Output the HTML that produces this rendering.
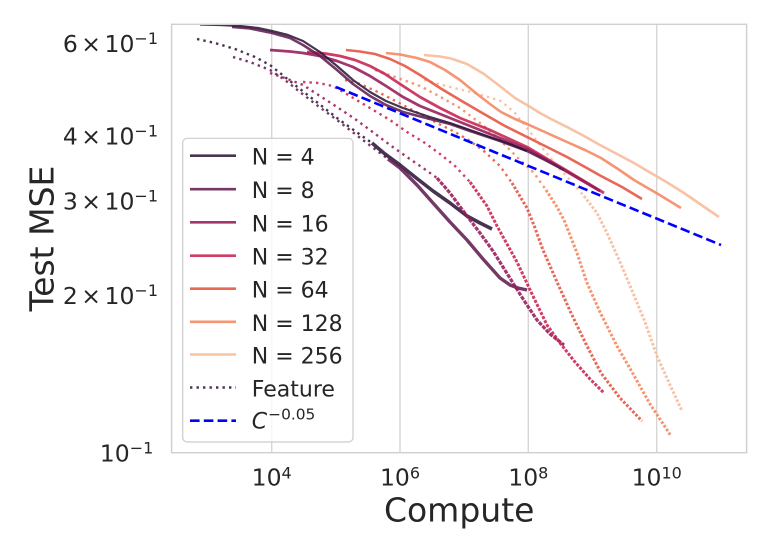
<!DOCTYPE html>
<html><head><meta charset="utf-8"><style>
html,body{margin:0;padding:0;background:#fff;width:768px;height:533px;overflow:hidden}
svg{display:block}
text{font-family:"DejaVu Sans","Liberation Sans",sans-serif;fill:#262626}
</style></head><body>
<svg width="768" height="533" viewBox="0 0 768 533" xmlns="http://www.w3.org/2000/svg">
<rect width="768" height="533" fill="#fff"/>
<!-- grid -->
<g stroke="#d6d6d6" stroke-width="1.4">
<line x1="271.7" y1="24.3" x2="271.7" y2="452.7"/>
<line x1="400" y1="24.3" x2="400" y2="452.7"/>
<line x1="528.3" y1="24.3" x2="528.3" y2="452.7"/>
<line x1="656.7" y1="24.3" x2="656.7" y2="452.7"/>
</g>
<defs><clipPath id="ax"><rect x="171.6" y="24.3" width="575" height="428.4"/></clipPath></defs>
<g clip-path="url(#ax)" fill="none" stroke-linejoin="round" stroke-opacity="0.88">
<!-- Feature dotted parts -->
<g stroke-width="2.4" stroke-dasharray="2.4 4.1">
<polyline stroke="#2f173a" points="197,39 215,43 235,49 255,57 270,65 285,77 300,89 318,103 337,118 355,131 372,143"/>
<polyline stroke="#611e51" points="233,57 250,62 270,70 285,80 300,92 318,106 337,120 355,134 372,147 388,159"/>
<polyline stroke="#961a58" points="270,73 285,78 303,85 320,96 337,107 355,119 370,130 390,145 407,157 423,168 437,178"/>
<polyline stroke="#c8214f" points="303,82 318,83 333,86 350,96 370,108 390,120 407,132 425,143 440,154 455,166 470,182"/>
<polyline stroke="#e6523f" points="345,80 360,84 380,93 403,105 420,114 437,123 455,132 470,141 485,152 500,166 512,183"/>
<polyline stroke="#f48660" points="375,70 395,77 420,86 437,95 460,108 484,126 500,140 517,157 534,173 546,190"/>
<polyline stroke="#f7bb99" points="424,80 450,87 475,93 501,101 515,113 527,128 540,145 557,166 570,180 584,196"/>
</g>
<!-- Feature dense parts -->
<polyline stroke="#2f173a" stroke-width="3.6" points="372,143 385,154 400,165 415,177 433,191 450,203 467,216 480,223 492,229"/>
<polyline stroke="#611e51" stroke-width="3.4" points="388,159 400,168 417,185 433,203 450,222 467,240 483,259 500,278 510,285 518,288 527,290"/>
<polyline stroke="#961a58" stroke-width="3.2" stroke-dasharray="4 1.2" points="437,178 450,193 467,216 480,233 493,251 503,267 513,283 525,302 537,320 550,334 564,345"/>
<polyline stroke="#c8214f" stroke-width="3" stroke-dasharray="3 1.5" points="470,182 487,206 497,226 507,244 517,262 532,294 547,325 560,343 575,362 590,379 604,393"/>
<polyline stroke="#e6523f" stroke-width="3" stroke-dasharray="2.6 1.8" points="512,183 527,208 535,228 543,250 557,282 571,313 586,344 601,373 620,398 642,421"/>
<polyline stroke="#f48660" stroke-width="3" stroke-dasharray="2.6 1.8" points="546,190 557,207 564,220 577,253 587,283 600,312 617,346 632,372 650,404 671,436"/>
<polyline stroke="#f7bb99" stroke-width="3" stroke-dasharray="2.6 1.8" points="584,196 597,213 607,233 620,262 633,293 645,322 657,356 670,385 682,411"/>
<!-- Solid model lines -->
<polyline stroke="#f7bb99" stroke-width="2.6" points="424,55 440,56.5 451,58.5 467,64 484,74 501,87 515,98 527,105 540,113 551,119 567,127 584,136 600,145 617,154 634,163 651,173 668,183 684,193 700,204 719,217"/>
<polyline stroke="#f48660" stroke-width="2.6" points="386,53 400,54.5 417,58 430,62 445,70 460,80 477,94 490,104 501,112 515,119 527,124 547,133 567,142 585,150 601,158 618,169 634,180 658,194 681,208"/>
<polyline stroke="#e6523f" stroke-width="2.6" points="346,50 360,51.5 375,54 390,59 405,66 420,75 440,88 460,100 484,114 505,126 527,137 547,147 567,157 585,167 601,176 622,187 642,199"/>
<polyline stroke="#c8214f" stroke-width="2.8" points="307,52 325,53.5 340,56 355,60 370,66 385,74 400,84 420,97 440,108 460,118 490,130 527,147 564,169 604,193"/>
<polyline stroke="#961a58" stroke-width="2.8" points="270,50 290,51.5 303,53 320,56 337,61 353,67 370,76 386,86 403,97 420,106 440,114 470,126 500,138 527,149 564,170 600,191"/>
<polyline stroke="#611e51" stroke-width="2.6" points="232,27 250,28.5 272,33 290,38 303,45 320,56 337,70 353,84 370,96 386,105 403,112 430,119 450,124 470,131 500,141 527,151 545,160 564,170"/>
<polyline stroke="#2f173a" stroke-width="2.2" points="200,24.5 220,25 240,26 258,28 272,31 288,35 303,41 320,52 337,66 353,80 370,92 386,101 403,108 430,117 450,123 470,130 490,137 510,144 527,151"/>
<!-- C^-0.05 -->
<line x1="336" y1="87" x2="721" y2="245" stroke="#0000ff" stroke-opacity="1" stroke-width="2.6" stroke-dasharray="9.6 4.2"/>
</g>
<!-- frame -->
<rect x="171.6" y="24.3" width="575" height="428.4" fill="none" stroke="#cfcfcf" stroke-width="1.4"/>
<!-- y tick labels -->
<g font-size="23.5" text-anchor="end">
<text x="158" y="52">6<tspan dx="3.5">×</tspan><tspan dx="3.5">10</tspan><tspan dy="-8" font-size="16">−1</tspan></text>
<text x="158" y="144.5">4<tspan dx="3.5">×</tspan><tspan dx="3.5">10</tspan><tspan dy="-8" font-size="16">−1</tspan></text>
<text x="158" y="209.5">3<tspan dx="3.5">×</tspan><tspan dx="3.5">10</tspan><tspan dy="-8" font-size="16">−1</tspan></text>
<text x="158" y="304">2<tspan dx="3.5">×</tspan><tspan dx="3.5">10</tspan><tspan dy="-8" font-size="16">−1</tspan></text>
<text x="153.3" y="461.5">10<tspan dy="-8" font-size="16">−1</tspan></text>
</g>
<!-- x tick labels -->
<g font-size="23.5" text-anchor="middle">
<text x="271.7" y="485.5">10<tspan dy="-7" font-size="16">4</tspan></text>
<text x="400" y="485.5">10<tspan dy="-7" font-size="16">6</tspan></text>
<text x="528.3" y="485.5">10<tspan dy="-7" font-size="16">8</tspan></text>
<text x="656.7" y="485.5">10<tspan dy="-7" font-size="16">10</tspan></text>
</g>
<!-- axis labels -->
<text x="459.2" y="521.5" text-anchor="middle" font-size="33">Compute</text>
<text transform="translate(53.3,238.5) rotate(-90)" text-anchor="middle" font-size="33">Test MSE</text>
<!-- legend -->
<rect x="182.7" y="138.3" width="170.3" height="303.7" rx="4.5" fill="#fff" fill-opacity="0.8" stroke="#cccccc" stroke-width="1.2"/>
<g stroke-width="2.6" stroke-opacity="0.88">
<line x1="190" y1="155.7" x2="236" y2="155.7" stroke="#2f173a"/>
<line x1="190" y1="189.2" x2="236" y2="189.2" stroke="#611e51"/>
<line x1="190" y1="222.3" x2="236" y2="222.3" stroke="#961a58"/>
<line x1="190" y1="255.7" x2="236" y2="255.7" stroke="#c8214f"/>
<line x1="190" y1="288.7" x2="236" y2="288.7" stroke="#e6523f"/>
<line x1="190" y1="321.8" x2="236" y2="321.8" stroke="#f48660"/>
<line x1="190" y1="354.5" x2="236" y2="354.5" stroke="#f7bb99"/>
<line x1="190" y1="387.5" x2="236" y2="387.5" stroke="#2f173a" stroke-width="2.4" stroke-dasharray="2.4 4.1"/>
<line x1="190" y1="420.7" x2="236" y2="420.7" stroke="#0000ff" stroke-opacity="1" stroke-dasharray="9.6 4.2"/>
</g>
<g font-size="22">
<text x="251.8" y="164.7">N = 4</text>
<text x="251.8" y="198.2">N = 8</text>
<text x="251.8" y="231.3">N = 16</text>
<text x="251.8" y="264.7">N = 32</text>
<text x="251.8" y="297.7">N = 64</text>
<text x="251.8" y="330.8">N = 128</text>
<text x="251.8" y="363.5">N = 256</text>
<text x="251.8" y="396.5">Feature</text>
<text x="251.8" y="428.5"><tspan font-style="italic">C</tspan><tspan dx="1" dy="-9" font-size="15.4">−0.05</tspan></text>
</g>
</svg>
</body></html>
